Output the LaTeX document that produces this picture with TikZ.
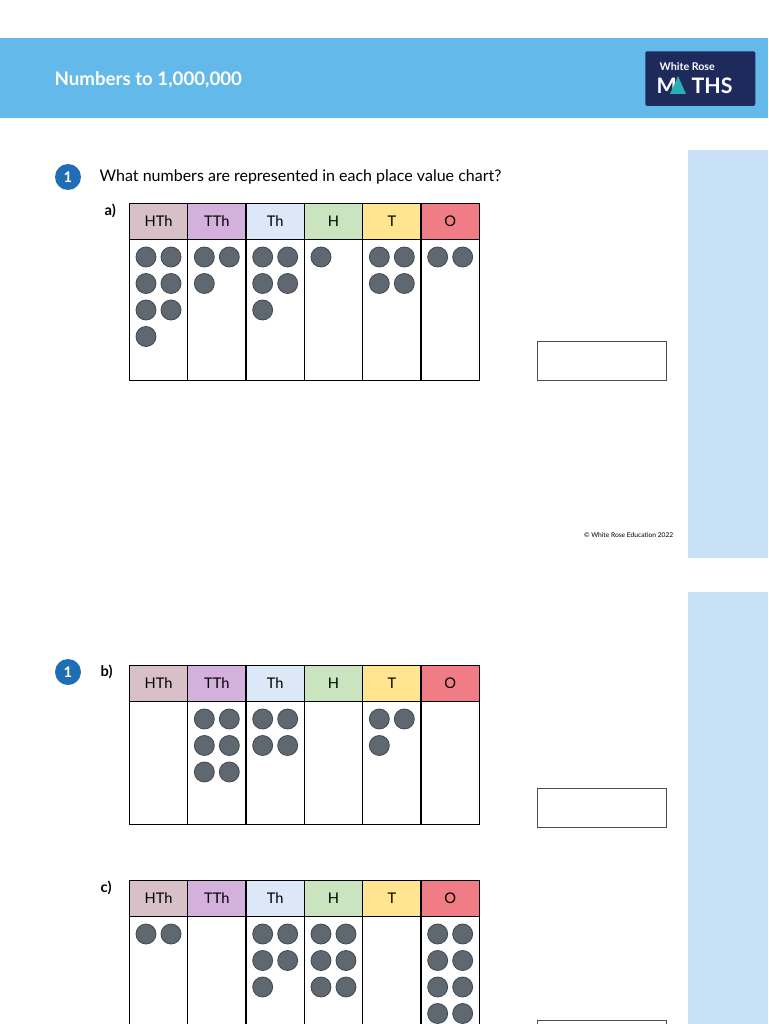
\documentclass[tikz,border=0pt]{standalone}
\usepackage{fontspec}
\setmainfont{Lato}
\definecolor{hdr}{HTML}{63B9E9}
\definecolor{navy}{HTML}{1F2A5C}
\definecolor{side}{HTML}{C9E1F7}
\definecolor{qblue}{HTML}{1F6DB5}
\definecolor{cHTh}{HTML}{D8C0C8}
\definecolor{cTTh}{HTML}{D3B1DC}
\definecolor{cTh}{HTML}{DCE8F8}
\definecolor{cH}{HTML}{C9E4BE}
\definecolor{cT}{HTML}{FFE58F}
\definecolor{cO}{HTML}{F07C86}
\definecolor{ctr}{HTML}{5F6770}
\definecolor{teal}{HTML}{2AAFB5}
\tikzset{counter/.style={circle,fill=ctr,draw=ctr!70!black,line width=0.6pt,minimum size=15pt,inner sep=0pt},
 hcell/.style={draw=black,line width=0.8pt,minimum width=43.5pt,minimum height=27pt,inner sep=0pt,font=\fontsize{11}{11}\selectfont,anchor=north west},
 bcell/.style={draw=black,line width=0.8pt,minimum width=43.5pt,anchor=north west,inner sep=0pt},
 ansbox/.style={draw=black!70,line width=0.6pt,minimum width=96.75pt,minimum height=29pt,anchor=north west,inner sep=0pt},
 qnum/.style={circle,fill=qblue,text=white,minimum size=19.5pt,inner sep=0pt,font=\bfseries\fontsize{11}{11}\selectfont},
 lab/.style={font=\bfseries\fontsize{11}{11}\selectfont,anchor=west}}
\newcommand{\chart}[4]{% #1 name, #2 top y, #3 body height (pt), #4 counts list
 \foreach \c/\t [count=\i from 0] in {HTh/HTh,TTh/TTh,Th/Th,H/H,T/T,O/O}{
   \node[hcell,fill=c\c] (#1h\i) at ({129+58.33*\i},#2) {\t};
   \node[bcell,minimum height=#3] (#1b\i) at ({129+58.33*\i},#2+36) {};
 }
 \foreach \n [count=\i from 0] in {#4}{
   \ifnum\n>0
   \foreach \k in {1,...,\n}{
     \pgfmathtruncatemacro\rr{int((\k-1)/2)}
     \pgfmathtruncatemacro\cc{mod(\k-1,2)}
     \node[counter] (#1c\i-\k) at ({129+58.33*\i+17+25*\cc},{#2+36+18+26.5*\rr}) {};
   }\fi
 }}
\begin{document}
\begin{tikzpicture}[x=0.75pt,y=-0.75pt]
\useasboundingbox (0,0) rectangle (768,1024);
\fill[white] (0,0) rectangle (768,1024);
\fill[hdr] (0,38) rectangle (768,118);
\node[text=white,font=\bfseries\fontsize{14}{14}\selectfont,anchor=west] (title) at (50,80) {Numbers to 1,000,000};
\node[fill=navy,rounded corners=1.5pt,minimum width=82.5pt,minimum height=41pt,anchor=north west,inner sep=0pt] (logo) at (645,51) {};
\node[text=white,font=\bfseries\fontsize{8}{8}\selectfont,anchor=west] (wr) at (655,67) {White Rose};
\node[text=white,font=\bfseries\fontsize{16}{16}\selectfont,anchor=west] (maths) at (652,86) {M\hspace{11pt}THS};
\fill[teal] (670,94) -- (678,76) -- (686,94) -- cycle;
\fill[side] (688,150) rectangle (768,558);
\fill[side] (688,592) rectangle (768,1024);
% Q1a
\node[qnum] (q1) at (68,177) {1};
\node[font=\fontsize{12}{12}\selectfont,anchor=west] (qt) at (95,177) {What numbers are represented in each place value chart?};
\node[lab] (la) at (100,211) {a)};
\chart{a}{203}{106pt}{7,3,5,1,4,2}
\node[ansbox] (boxa) at (537,341) {};
\node[font=\fontsize{5}{5}\selectfont,anchor=east] (copy) at (678,535) {© White Rose Education 2022};
% Q1b
\node[qnum] (q1b) at (68,672) {1};
\node[lab] (lb) at (96,672) {b)};
\chart{b}{665}{92pt}{0,6,4,0,3,0}
\node[ansbox] (boxb) at (537,788) {};
% Q1c
\node[lab] (lc) at (96,888) {c)};
\chart{c}{880}{90pt}{2,0,5,6,0,8}
\node[ansbox] (boxc) at (537,1020) {};
\end{tikzpicture}
\end{document}
